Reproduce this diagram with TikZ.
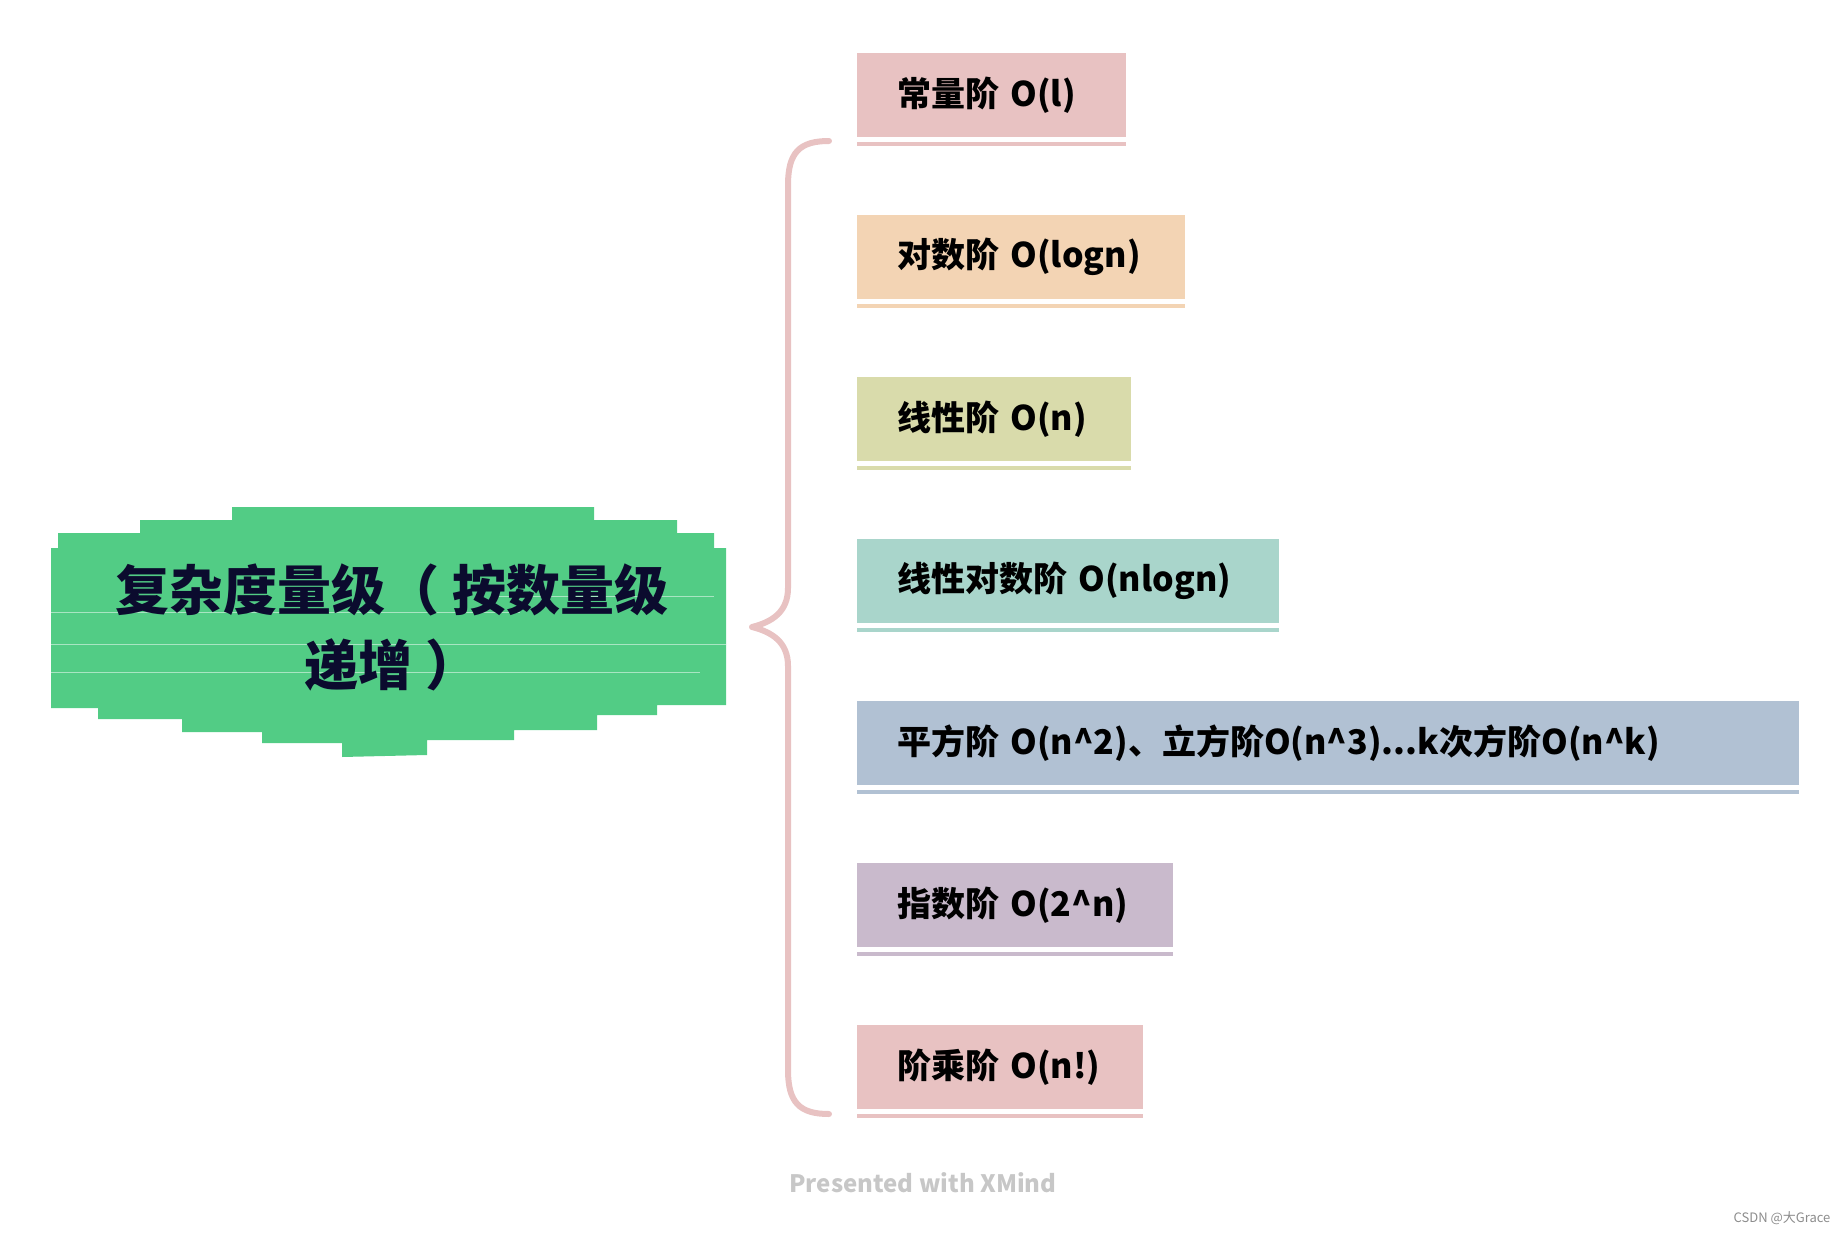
\documentclass[tikz,border=0pt]{standalone}
\usepackage{fontspec}
\newfontfamily\cjk{Noto Sans CJK SC}
\definecolor{rootgreen}{HTML}{52CC85}
\definecolor{roottext}{HTML}{0B0B2E}
\definecolor{bracepink}{HTML}{E8C2C2}
\definecolor{cpink}{HTML}{E8C2C2}
\definecolor{cpeach}{HTML}{F3D4B4}
\definecolor{colive}{HTML}{D9DBAB}
\definecolor{cteal}{HTML}{A9D5CB}
\definecolor{cblue}{HTML}{B1C1D3}
\definecolor{cmauve}{HTML}{C9BACC}
\tikzset{
  level/.style={anchor=west, inner xsep=40pt, inner ysep=0pt, minimum height=84pt,
    align=left, text=black, font=\cjk\bfseries\fontsize{34}{40}\selectfont},
  brace/.style={draw=bracepink, line width=6pt, line cap=round, line join=round}
}
\begin{document}
\begin{tikzpicture}[x=1pt,y=-1pt]
  \useasboundingbox (0,0) rectangle (1848,1234);
  \fill[rootgreen] (232,507) -- (594,507) -- (594,520) -- (677,520) -- (677,533) -- (714,533)
    -- (714,548) -- (726,548) -- (726,705) -- (657,705) -- (657,715) -- (597,715) -- (597,730)
    -- (514,730) -- (514,740) -- (427,740) -- (427,755) -- (342,757) -- (342,743) -- (262,743)
    -- (262,732) -- (182,732) -- (182,719) -- (98,719) -- (98,708) -- (51,708) -- (51,548)
    -- (58,548) -- (58,533) -- (140,533) -- (140,520) -- (232,520) -- cycle;
  \draw[white, opacity=0.5, line width=1pt] (498,596) -- (714,596);
  \draw[white, opacity=0.5, line width=1pt] (51,612) -- (520,612);
  \draw[white, opacity=0.5, line width=1pt] (51,644) -- (726,644);
  \draw[white, opacity=0.5, line width=1pt] (51,672) -- (700,672);
  \node[align=center, text=roottext, font=\cjk\bfseries\fontsize{54}{75}\selectfont] (root) at (392,627)
    {复杂度量级（ 按数量级\\递增 ）};

  \node[level, fill=cpink,  text width=189pt] (b1) at (857,95)   {常量阶 O(l)};
  \node[level, fill=cpeach, text width=248pt] (b2) at (857,257)  {对数阶 O(logn)};
  \node[level, fill=colive, text width=194pt] (b3) at (857,419)  {线性阶 O(n)};
  \node[level, fill=cteal,  text width=342pt] (b4) at (857,581)  {线性对数阶 O(nlogn)};
  \node[level, fill=cblue,  text width=862pt] (b5) at (857,743)
    {平方阶 O(n\textasciicircum2)、立方阶O(n\textasciicircum3)...k次方阶O(n\textasciicircum k)};
  \node[level, fill=cmauve, text width=236pt] (b6) at (857,905)  {指数阶 O(2\textasciicircum n)};
  \node[level, fill=cpink,  text width=206pt] (b7) at (857,1067) {阶乘阶 O(n!)};
  \fill[cpink]  ([yshift=-5pt]b1.south west) rectangle ([yshift=-9pt]b1.south east);
  \fill[cpeach] ([yshift=-5pt]b2.south west) rectangle ([yshift=-9pt]b2.south east);
  \fill[colive] ([yshift=-5pt]b3.south west) rectangle ([yshift=-9pt]b3.south east);
  \fill[cteal]  ([yshift=-5pt]b4.south west) rectangle ([yshift=-9pt]b4.south east);
  \fill[cblue]  ([yshift=-5pt]b5.south west) rectangle ([yshift=-9pt]b5.south east);
  \fill[cmauve] ([yshift=-5pt]b6.south west) rectangle ([yshift=-9pt]b6.south east);
  \fill[cpink]  ([yshift=-5pt]b7.south west) rectangle ([yshift=-9pt]b7.south east);

  \coordinate (bracetop) at (829,141);
  \coordinate (bracetip) at (752,627);
  \coordinate (bracebot) at (829,1114);
  \draw[brace] (bracetop) .. controls (800,141) and (788,152) .. (788,185) -- (788,588)
    .. controls (788,612) and (772,622) .. (bracetip)
    .. controls (772,632) and (788,642) .. (788,666) -- (788,1070)
    .. controls (788,1103) and (800,1114) .. (bracebot);

  \node[text=black!22, font=\cjk\bfseries\fontsize{24}{28}\selectfont] (credit) at (923,1183)
    {Presented with XMind};
  \node[text=black!45, font=\cjk\fontsize{13}{15}\selectfont] (mark) at (1782,1218) {CSDN @大Grace};
\end{tikzpicture}
\end{document}
